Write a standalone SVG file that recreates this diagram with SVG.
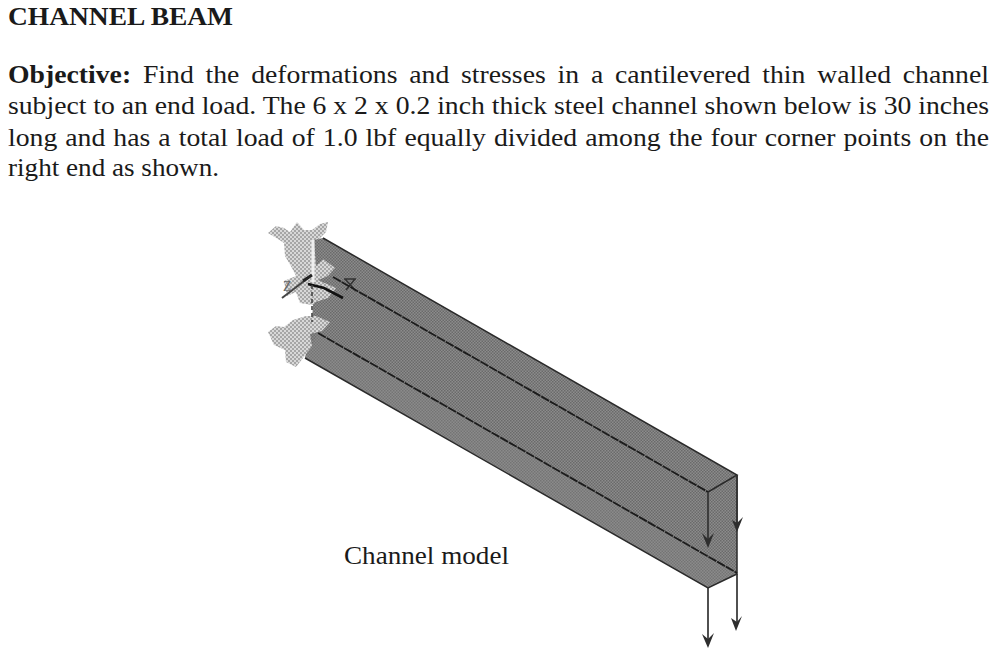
<svg xmlns="http://www.w3.org/2000/svg" width="998" height="652" viewBox="0 0 998 652">
<style>
text{font-family:"Liberation Serif","Times New Roman",serif;font-size:25px;fill:#1a1a1a}
.e{fill:none;stroke:#2a2a2a;stroke-width:1.5}
.d{fill:none;stroke:#1c1c1c;stroke-width:1.8;stroke-dasharray:9 1}
.a{fill:none;stroke:#333;stroke-width:1.7}
.h{fill:#2e2e2e}
</style>
<defs>
<pattern id="g" width="3" height="3" patternUnits="userSpaceOnUse"><rect width="3" height="3" fill="#8c8c8c"/><rect width="1.5" height="1.5" fill="#6a6a6a"/><rect x="1.5" y="1.5" width="1.5" height="1.5" fill="#6a6a6a"/></pattern>
<pattern id="l" width="4" height="4" patternUnits="userSpaceOnUse"><rect width="4" height="4" fill="#d8d8d8"/><rect width="2" height="2" fill="#a6a6a6"/><rect x="2" y="2" width="2" height="2" fill="#a6a6a6"/></pattern>
<filter id="s" x="-10%" y="-10%" width="120%" height="120%"><feGaussianBlur stdDeviation=".6"/></filter>
</defs>
<rect width="998" height="652" fill="#fff"/>
<text x="8" y="25" font-weight="700" textLength="225" lengthAdjust="spacingAndGlyphs">CHANNEL BEAM</text>
<text x="8" y="83" textLength="981" lengthAdjust="spacingAndGlyphs" style="word-spacing:4.4px"><tspan font-weight="700">Objective:</tspan> Find the deformations and stresses in a cantilevered thin walled channel</text>
<text x="8" y="114" textLength="981" lengthAdjust="spacingAndGlyphs" style="word-spacing:0">subject to an end load. The 6 x 2 x 0.2 inch thick steel channel shown below is 30 inches</text>
<text x="8" y="146" textLength="981" lengthAdjust="spacingAndGlyphs" style="word-spacing:1px">long and has a total load of 1.0 lbf equally divided among the four corner points on the</text>
<text x="8" y="176" textLength="211" lengthAdjust="spacingAndGlyphs">right end as shown.</text>
<g id="channel">
<polygon points="323,238 737,475 737,574 708,588 305,358 312,320 316,260" fill="url(#g)"/>
<polygon points="318,333 735,573 708,588 305,358" fill="#8a8a8a" opacity=".3"/>
</g>
<g id="constraints" filter="url(#s)">
<path d="M268,233 L276,226 L284,228 L290,232 L297,222 L304,230 L312,230 L320,224 L328,222 L326,232 L318,240 L331,252 L322,258 L335,268 L328,276 L318,280 L336,288 L328,298 L316,302 L312,305 L300,303 L296,292 L287,296 L284,281 L296,276 L292,268 L285,256 L284,243 L278,239 Z" fill="url(#l)"/>
<path d="M268,332 L276,326 L284,327 L293,320 L306,316 L316,316 L330,322 L322,331 L310,334 L312,346 L303,358 L296,367 L286,362 L285,350 L274,345 Z" fill="url(#l)"/>
<polygon points="314,240 323,238 332,252 316,266" fill="url(#g)"/>
<path d="M313,240 V282" stroke="#eee" stroke-width="3"/>
</g>
<g id="axes">
<path d="M282,298 L308,278" fill="none" stroke="#444" stroke-width="2"/>
<path d="M308,284 L324,288 L343,298" fill="none" stroke="#111" stroke-width="2.6"/>
<path d="M303,281 L312,275" fill="none" stroke="#222" stroke-width="3"/>
<path d="M312,285 V322" fill="none" stroke="#444" stroke-width="1.6" stroke-dasharray="4 3"/>
<path d="M344,279 L356,279 M346,290 L355,279 M345,279 L356,291" fill="none" stroke="#333" stroke-width="1.6"/>
<text x="283" y="291" style="font-size:14px;fill:#666">Z</text>
</g>
<g id="connectors">
<path class="e" d="M323,238 L737,475 L708,492 M737,475 L737,574 L708,588 L305,358"/>
<path class="d" d="M333,277 L708,492 M318,333 L737,573"/>
<path class="a" d="M708,492 L708,543 M737,475 L737,528 M708,588 L708,642 M737,574 L737,626"/>
<path class="h" d="M702,533 L708,548 L714,533 L708,539Z M732,520 L737,532 L743,517 L737,523Z M702,634 L708,648 L714,633 L708,639Z M731,618 L736,631 L742,616 L737,622Z"/>
</g>
<text x="344" y="564" textLength="165" lengthAdjust="spacingAndGlyphs">Channel model</text>
</svg>
